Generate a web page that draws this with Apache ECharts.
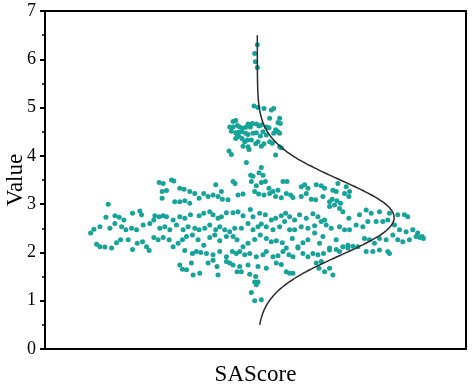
<!DOCTYPE html>
<html><head><meta charset="utf-8">
<script src="https://cdn.jsdelivr.net/npm/echarts@6/dist/echarts.min.js"></script>
<style>html,body{margin:0;padding:0;background:#fff}#c{width:474px;height:388px}</style>
</head><body><div id="c"></div>
<script>
const categories = ['SAScore'];
const yTicks = [0,1,2,3,4,5,6,7];
// [jitter, value]
const topOutliers = [[5,6.30],[-3,6.12],[-1,5.95],[5,5.83]];
const upperCluster = [[-5,5.03],[7,5.00],[25,4.98],[47,4.95],[54,4.98],[42,4.78],[72,4.78],[67,4.69],[74,4.67],[-68,4.71],[-60,4.73],[-55,4.63],[-78,4.60],[-68,4.60],[-73,4.51],[-48,4.60],[-40,4.57],[-30,4.59],[-23,4.66],[-16,4.60],[-10,4.67],[2,4.66],[10,4.62],[17,4.64],[32,4.60],[40,4.58],[60,4.54],[67,4.50],[54,4.47],[72,4.47],[-60,4.48],[-51,4.49],[-41,4.50],[-30,4.47],[-23,4.44],[-55,4.43],[-60,4.36],[-50,4.40],[-41,4.36],[-8,4.47],[2,4.48],[22,4.50],[14,4.41],[-13,4.33],[-25,4.33],[-33,4.29],[-38,4.20],[-20,4.13],[-23,4.19],[0,4.25],[7,4.29],[17,4.20],[25,4.25],[42,4.29],[50,4.26],[32,4.43],[72,4.19],[77,4.17],[60,4.02],[-80,4.10],[-73,4.03]];
const midPoints = [[-28,3.86],[17,3.76],[10,3.65],[-15,3.60],[-8,3.58],[22,3.60],[29,3.47],[-68,3.47],[-62,3.43]];
const band33 = [[-290,3.45],[-278,3.43],[-253,3.50],[-246,3.48],[82,3.47],[94,3.47],[247,3.43],[272,3.36],[-281,3.26],[-268,3.28],[-228,3.33],[-215,3.31],[-198,3.26],[-183,3.22],[-120,3.40],[-103,3.26],[-13,3.47],[2,3.38],[17,3.45],[40,3.33],[52,3.26],[67,3.29],[137,3.36],[147,3.40],[157,3.33],[182,3.40],[197,3.38],[207,3.33],[232,3.29],[242,3.26],[282,3.26]];
const band31 = [[-281,3.12],[-243,3.05],[-228,3.05],[-213,3.07],[-198,3.02],[-170,3.12],[-156,3.22],[-143,3.16],[-128,3.19],[-113,3.16],[-100,3.10],[-83,3.09],[-53,3.19],[-38,3.21],[-3,3.26],[9,3.21],[25,3.19],[42,3.22],[60,3.16],[77,3.13],[92,3.22],[105,3.19],[112,3.14],[137,3.16],[152,3.22],[167,3.10],[180,3.09],[202,3.16],[222,3.05],[230,3.10],[244,3.07],[255,3.02],[267,3.22],[280,3.16],[-443,3.00]];
const band28 = [[-450,2.73],[-423,2.76],[-410,2.73],[-396,2.67],[-370,2.81],[-348,2.86],[-343,2.78],[-303,2.76],[-290,2.74],[-278,2.76],[-268,2.74],[-248,2.67],[-228,2.74],[-213,2.71],[-196,2.78],[-170,2.76],[-156,2.81],[-138,2.84],[-128,2.78],[-113,2.71],[-103,2.74],[-88,2.82],[-68,2.82],[-53,2.84],[-38,2.76],[-16,2.89],[-8,2.74],[12,2.81],[29,2.78],[47,2.67],[60,2.71],[77,2.76],[90,2.81],[102,2.74],[117,2.67],[132,2.78],[152,2.71],[172,2.80],[187,2.74],[207,2.67],[222,2.95],[237,2.98],[252,2.91],[262,2.84],[280,2.71],[312,2.78],[332,2.88],[347,2.81],[372,2.84],[402,2.81],[427,2.78],[447,2.78],[457,2.74]];
const band25 = [[-496,2.40],[-486,2.48],[-468,2.53],[-438,2.50],[-423,2.60],[-403,2.53],[-390,2.47],[-373,2.50],[-358,2.47],[-338,2.57],[-318,2.60],[-306,2.67],[-288,2.50],[-273,2.53],[-258,2.47],[-238,2.57],[-218,2.47],[-203,2.53],[-183,2.50],[-170,2.47],[-153,2.50],[-138,2.57],[-120,2.47],[-108,2.53],[-93,2.47],[-78,2.43],[-63,2.50],[-43,2.50],[-23,2.60],[-8,2.47],[7,2.53],[17,2.59],[32,2.53],[52,2.47],[72,2.53],[87,2.64],[102,2.47],[117,2.47],[137,2.53],[157,2.50],[177,2.55],[197,2.64],[212,2.57],[227,2.50],[252,2.53],[267,2.47],[282,2.47],[302,2.57],[322,2.53],[337,2.64],[362,2.64],[382,2.64],[397,2.67],[417,2.57],[432,2.47],[452,2.43],[472,2.47],[487,2.40],[500,2.33]];
const band22 = [[-478,2.17],[-468,2.12],[-453,2.11],[-433,2.09],[-418,2.20],[-406,2.26],[-383,2.26],[-370,2.06],[-356,2.19],[-340,2.22],[-328,2.12],[-320,2.04],[-306,2.31],[-293,2.26],[-278,2.31],[-260,2.26],[-248,2.12],[-233,2.19],[-220,2.26],[-208,2.33],[-190,2.36],[-173,2.26],[-156,2.15],[-138,2.31],[-123,2.36],[-108,2.24],[-88,2.33],[-68,2.33],[-56,2.26],[-38,2.12],[-23,2.19],[-3,2.27],[14,2.36],[32,2.29],[47,2.22],[62,2.24],[80,2.20],[92,2.09],[110,2.29],[127,2.12],[142,2.20],[157,2.26],[177,2.40],[192,2.19],[202,2.33],[222,2.09],[242,2.26],[262,2.12],[277,2.15],[292,2.13],[307,2.12],[327,2.29],[342,2.26],[357,2.19],[372,2.29],[392,2.26],[412,2.36],[427,2.26],[442,2.22],[462,2.26],[482,2.33],[494,2.31],[504,2.29]];
const band19 = [[-213,2.04],[-190,1.98],[-178,2.02],[-165,2.00],[-148,1.98],[-128,1.95],[-108,2.02],[-88,1.91],[-70,2.02],[-58,1.98],[-48,2.02],[-33,1.95],[-18,1.98],[2,1.91],[22,1.95],[32,2.02],[52,1.91],[67,1.93],[82,2.02],[100,1.95],[112,1.91],[127,2.09],[142,1.98],[157,1.91],[172,1.98],[187,1.95],[204,1.98],[222,2.05],[242,2.06],[252,2.02],[277,2.09],[332,2.02],[352,2.02],[372,2.05],[397,2.02],[402,1.98]];
const band17 = [[-228,1.74],[-220,1.65],[-208,1.64],[-193,1.78],[-188,1.53],[-168,1.57],[-143,1.78],[-128,1.84],[-116,1.71],[-113,1.53],[-88,1.81],[-78,1.78],[-68,1.74],[-56,1.60],[-48,1.71],[-43,1.60],[-23,1.74],[7,1.71],[32,1.67],[62,1.78],[77,1.75],[92,1.60],[102,1.57],[112,1.57],[182,1.78],[190,1.67],[197,1.81],[207,1.60],[222,1.67],[232,1.53],[-18,1.55]];
const lowerTail = [[0,1.50],[-3,1.39],[7,1.39],[2,1.33],[-13,1.17],[17,1.02],[-3,1.00]];

// fitted normal curve parameters
const curveMean = 2.72, curveSd = 0.78, curvePeak = 411, curveBase = 5, curveFrom = 0.5, curveTo = 6.5;

const points = [].concat(topOutliers, upperCluster, midPoints, band33, band31, band28, band25, band22, band19, band17, lowerTail);
const curve = [];
for (let y = curveFrom; y <= curveTo + 1e-9; y += 0.05) {
  const d = (y - curveMean) / curveSd;
  curve.push([curveBase + curvePeak * Math.exp(-0.5 * d * d), +y.toFixed(2)]);
}

const serif = '"Liberation Serif","Times New Roman",serif';
const chart = echarts.init(document.getElementById('c'), null, {renderer: 'canvas'});
chart.setOption({
  animation: false,
  grid: {left: 45, right: 8, top: 11, bottom: 39, containLabel: false, outerBoundsMode: 'none',
         show: true, borderColor: '#000', borderWidth: 2, backgroundColor: 'transparent'},
  xAxis: [
    {type: 'category', data: categories, position: 'bottom', boundaryGap: true,
     axisLine: {lineStyle: {color: '#000', width: 2}},
     axisTick: {alignWithLabel: true, length: 6, lineStyle: {color: '#000', width: 2}},
     axisLabel: {color: '#000', fontFamily: serif, fontSize: 23, margin: 14},
     splitLine: {show: false}},
    {type: 'value', min: -633, max: 632, show: false, splitLine: {show: false}}
  ],
  yAxis: {type: 'value', min: yTicks[0], max: yTicks[yTicks.length - 1], interval: 1,
    name: 'Value', nameLocation: 'middle', nameGap: 18, nameMoveOverlap: false,
    nameTextStyle: {color: '#000', fontFamily: serif, fontSize: 23},
    axisLine: {show: true, onZero: false, lineStyle: {color: '#000', width: 2}},
    axisTick: {show: true, length: 5, lineStyle: {color: '#000', width: 2}},
    minorTick: {show: true, splitNumber: 2, length: 3, lineStyle: {color: '#000', width: 1.5}},
    axisLabel: {color: '#000', fontFamily: serif, fontSize: 18, margin: 9},
    splitLine: {show: false}, minorSplitLine: {show: false}},
  series: [
    {type: 'scatter', xAxisIndex: 1, data: points, symbolSize: 5, itemStyle: {color: '#16a39a', opacity: 1}, z: 2},
    {type: 'line', xAxisIndex: 1, data: curve, showSymbol: false, symbol: 'none', smooth: true,
     lineStyle: {color: '#2a2a2a', width: 1.5}, z: 3}
  ]
});
</script></body></html>
